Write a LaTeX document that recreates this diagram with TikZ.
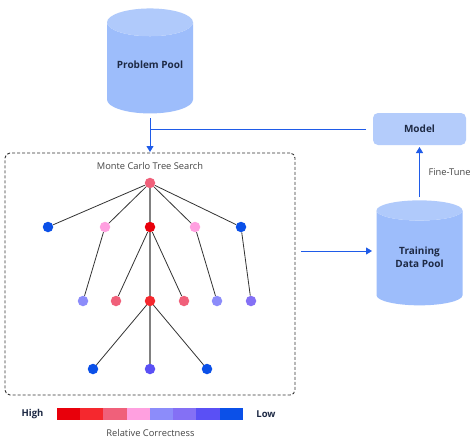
\documentclass[tikz,border=0pt]{standalone}
\usepackage{fontspec}
\setmainfont{Open Sans}
\usetikzlibrary{shapes.geometric,arrows.meta}
\definecolor{bodyc}{HTML}{9DBDFB}
\definecolor{endc}{HTML}{B0CAFB}
\definecolor{modelc}{HTML}{B4CCFB}
\definecolor{linec}{HTML}{1F5BE8}
\definecolor{ink}{HTML}{1E2A45}
\definecolor{greyt}{HTML}{444444}
\definecolor{c1}{HTML}{E8000B}
\definecolor{c2}{HTML}{F5282E}
\definecolor{c3}{HTML}{F0607A}
\definecolor{c4}{HTML}{FFA0E0}
\definecolor{c5}{HTML}{8C8CFA}
\definecolor{c6}{HTML}{8470F5}
\definecolor{c7}{HTML}{5A50F5}
\definecolor{c8}{HTML}{0B50E8}
\tikzset{
 pool/.style={cylinder,shape border rotate=90,aspect=0.42,minimum width=86pt,minimum height=105pt,
   cylinder uses custom fill,cylinder body fill=bodyc,cylinder end fill=endc,draw=none,
   inner sep=0pt,align=center,text=ink,font=\fontsize{10}{13}\selectfont\bfseries},
 tnode/.style={circle,minimum size=10.5pt,inner sep=0pt,fill=#1},
 edge/.style={draw=black!80,line width=0.8pt},
 trunk/.style={draw=black!50,line width=1.5pt},
 flow/.style={draw=linec,line width=0.9pt},
 flowa/.style={flow,-{Triangle[length=6pt,width=7pt]}},
 lab/.style={text=greyt,font=\fontsize{9.3}{11}\selectfont},
 bold/.style={text=ink,font=\fontsize{9.5}{11}\selectfont\bfseries},
 seg/.style={minimum width=23.4pt,minimum height=12pt,inner sep=0pt,fill=#1,anchor=center},
}
\begin{document}
\begin{tikzpicture}[x=1pt,y=-1pt]
\useasboundingbox (0,0) rectangle (474,444);
\fill[white] (0,0) rectangle (474,444);
\node[pool] (pp) at (150,68) {\raisebox{7pt}{Problem Pool}};
\node[pool] (td) at (419.5,258) {\raisebox{2pt}{\begin{tabular}{@{}c@{}}Training\\Data Pool\end{tabular}}};
\node[minimum width=93pt,minimum height=32pt,rounded corners=5pt,fill=modelc,inner sep=0pt,text=ink,font=\fontsize{10}{12}\selectfont\bfseries] (model) at (419.5,129) {Model};
\node[draw=black!80,dash pattern=on 3pt off 2pt,line width=0.9pt,rounded corners=5pt,minimum width=290pt,minimum height=242pt,inner sep=0pt] (mcts) at (150,274) {};
\node[lab] (title) at (150,166) {Monte Carlo Tree Search};
\coordinate (ppout) at (150,118);
\coordinate (j) at (150,129);
\coordinate (mctsin) at (150,152);
\coordinate (modelout) at (366,129);
\coordinate (tdout) at (419.5,197);
\coordinate (modelin) at (419.5,147);
\coordinate (mctsout) at (301,251);
\coordinate (tdin) at (372,251);
\draw[flowa] (ppout) -- (mctsin);
\draw[flow] (modelout) -- (j);
\draw[flowa] (tdout) -- (modelin);
\draw[flowa] (mctsout) -- (tdin);
\node[lab,anchor=west] (ft) at (425,172.5) {Fine-Tune};
% tree
\node[tnode=c3] (r) at (150,183) {};
\node[tnode=c8] (a1) at (48,227) {};
\node[tnode=c4] (a2) at (105,227) {};
\node[tnode=c1] (a3) at (150,227) {};
\node[tnode=c4] (a4) at (195,227) {};
\node[tnode=c8] (a5) at (241,227) {};
\node[tnode=c5] (b1) at (83,301) {};
\node[tnode=c3] (b2) at (116,301) {};
\node[tnode=c2] (b3) at (150,301) {};
\node[tnode=c3] (b4) at (184,301) {};
\node[tnode=c5] (b5) at (217,301) {};
\node[tnode=c6] (b6) at (251,301) {};
\node[tnode=c8] (d1) at (93,369) {};
\node[tnode=c7] (d2) at (150,369) {};
\node[tnode=c8] (d3) at (207,369) {};
\foreach \u/\v in {r/a1,r/a2,r/a4,r/a5,a2/b1,a3/b2,a3/b4,a4/b5,a5/b6,b3/d1,b3/d3}
  \draw[edge] (\u) -- (\v);
\foreach \u/\v in {r/a3,a3/b3,b3/d2}
  \draw[trunk] (\u) -- (\v);
% legend
\foreach \i/\c in {1/c1,2/c2,3/c3,4/c4,5/c5,6/c6,7/c7,8/c8}
  \node[seg=\c] (s\i) at ({57+(\i-0.5)*23.25},414) {};
\node[bold] (hi) at (32.5,414) {High};
\node[bold] (lo) at (266,414) {Low};
\node[lab] (rc) at (150.5,433.5) {Relative Correctness};
\end{tikzpicture}
\end{document}
